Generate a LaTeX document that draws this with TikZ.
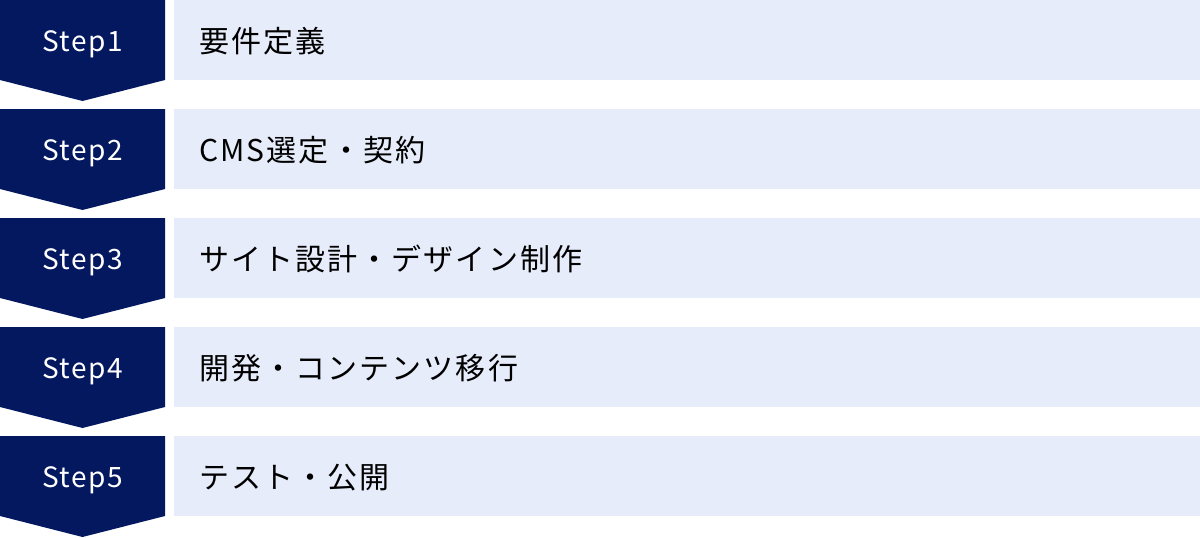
\documentclass[tikz,border=0pt]{standalone}
\usepackage{fontspec}
\setmainfont{Noto Sans CJK JP}
\newfontfamily\jpfont[LetterSpace=7]{Noto Sans CJK JP}
\newfontfamily\stepfont[LetterSpace=5]{Noto Sans CJK JP}
\definecolor{navy}{RGB}{4,24,96}
\definecolor{pale}{RGB}{230,236,250}
\tikzset{
  chev/.style={fill=navy, draw=none},
  steplabel/.style={text=white, font=\stepfont\fontsize{28}{28}\selectfont, inner sep=0pt, anchor=base},
  bar/.style={fill=pale, draw=none, minimum width=1026pt, minimum height=80pt, inner sep=0pt, anchor=north west},
  bartext/.style={text=black, font=\jpfont\fontsize{30}{30}\selectfont, inner sep=0pt, anchor=base west},
}
\begin{document}
\begin{tikzpicture}[x=1pt,y=-1pt]
\useasboundingbox (0,0) rectangle (1200,538);
\foreach \i/\t in {1/要件定義,2/CMS選定・契約,3/サイト設計・デザイン制作,4/開発・コンテンツ移行,5/テスト・公開}{
  \pgfmathsetmacro{\y}{(\i-1)*109}
  \fill[chev] (0,\y) -- (165,\y) -- (165,\y+80) -- (82.5,\y+101) -- (0,\y+80) -- cycle;
  \coordinate (c\i) at (82.5,\y+51);
  \node[steplabel] (s\i) at (c\i) {Step\i};
  \node[bar] (b\i) at (174,\y) {};
  \node[bartext] (t\i) at ([xshift=25pt,yshift=-12pt]b\i.west) {\t};
}
\end{tikzpicture}
\end{document}
